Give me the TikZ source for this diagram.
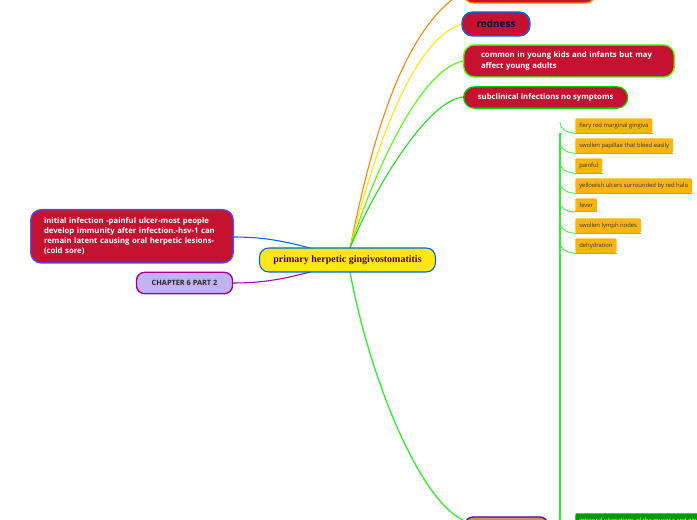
\documentclass[tikz,border=0pt]{standalone}
\usepackage{fontspec}
\setmainfont{Open Sans}
\newfontfamily\serifb{Liberation Serif}
\begin{document}
\begin{tikzpicture}[x=0.75pt,y=-0.75pt,
 redbox/.style={draw,line width=1pt,fill=crim,rounded corners=8pt,text=white,font=\bfseries\fontsize{5.8}{7.6}\selectfont,align=left,anchor=north west,inner sep=0pt},
 leaf/.style={fill=leafo,rounded corners=1pt,font=\fontsize{4.4}{5}\selectfont,text=black!80,anchor=north west,inner xsep=3pt,minimum height=9.75pt},
 ul/.style={draw=gline,line width=0.8pt}]
\definecolor{crim}{HTML}{C41230}
\definecolor{leafo}{HTML}{F7B514}
\definecolor{gline}{HTML}{33EE33}
\definecolor{cyel}{HTML}{FFE619}
\useasboundingbox (0,0) rectangle (697,520);
\begin{scope}
\clip (0,0) rectangle (697,520);
% connectors
\coordinate (cs) at (350,248);
\draw[orange,line width=0.8pt] (cs) .. controls (370,150) and (400,30) .. (463,-8);
\draw[yellow!90!orange,line width=0.8pt] (cs) .. controls (372,160) and (410,40) .. (462,24);
\draw[green!70!yellow,line width=0.8pt] (cs) .. controls (375,170) and (420,70) .. (463,61);
\draw[green!85!black!90,line width=0.8pt] (cs) .. controls (378,180) and (430,100) .. (463,97);
\draw[gline,line width=1pt] (350,272) .. controls (370,380) and (420,500) .. (463,520);
\draw[blue!60!cyan,line width=0.8pt] (310,248) .. controls (280,240) and (260,237) .. (233,237);
\draw[violet!70!magenta,line width=0.8pt] (310,272) .. controls (280,280) and (260,283) .. (233,283);
% top boxes
\draw[orange,line width=1pt,fill=crim,rounded corners=8pt] (463,-20) rectangle (596,3);
\node[redbox,draw=blue!60!cyan,minimum width=51pt,minimum height=18pt,text=blue!30!black,font=\bfseries\fontsize{7.5}{9}\selectfont,align=center,anchor=center] (red) at (496,24) {redness};
\node[redbox,draw=green!70!yellow,minimum width=158pt,minimum height=24pt,text width=132pt,inner xsep=13pt,anchor=west] (com) at (463,61) {common in young kids and infants but may\\affect young adults};
\node[redbox,draw=green!80!black,minimum width=123pt,minimum height=16pt,inner xsep=9pt,anchor=west] (sub) at (463,97.5) {subclinical infections no symptoms};
% leaves
\draw[gline,line width=1pt] (560,133) -- (560,520);
\foreach \t/\y/\n in {fiery red marginal gingiva/118/a, swollen papillae that bleed easily/138/b, painful/158/c, yellowish ulcers surrounded by red halo/178/d, fever/198/e, swollen lymph nodes/218/f, dehydration/238/g}{
 \node[leaf] (\n) at (575,\y) {\t};
 \draw[ul] (\n.south west) -- (\n.south east);
 \draw[gline,line width=0.6pt] (560,\y) ++(0,4) to[out=-90,in=180] (\n.south west);
}
\node[fill=green!60!black,font=\fontsize{4.4}{5}\selectfont,text=white!85!green,anchor=north west,inner xsep=3pt,minimum height=10pt,rounded corners=1pt] (bot) at (575,513) {intraoral ulcerations of the mucosa and gingiva};
\draw[violet!80!blue,line width=1pt,fill=brown!70!orange!80!black!70,rounded corners=6pt] (465,517) rectangle (548,540);
% left
\node[redbox,draw=blue!70,minimum width=152pt,minimum height=40pt,text width=132pt,inner xsep=10pt,anchor=north west] (init) at (30,209) {initial infection -painful ulcer-most people\\develop immunity after infection.-hsv-1 can\\remain latent causing oral herpetic lesions-\\(cold sore)};
\node[draw=violet!80!magenta,line width=1pt,fill=violet!40!blue!30,rounded corners=6pt,minimum width=72pt,minimum height=16pt,font=\bfseries\fontsize{5.5}{6}\selectfont,text=black!85] (ch) at (184.5,283) {CHAPTER 6 PART 2};
% center
\node[draw=blue!50!cyan!80!black,line width=0.8pt,fill=cyel,rounded corners=7pt,minimum width=132pt,minimum height=18pt,font=\serifb\bfseries\fontsize{7.5}{8}\selectfont,text=violet!70!black] (c) at (347.5,260) {primary herpetic gingivostomatitis};
\end{scope}
\end{tikzpicture}
\end{document}
